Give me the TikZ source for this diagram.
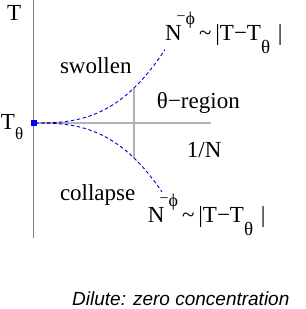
\documentclass[tikz,border=0pt]{standalone}
\usepackage{fontspec}
\setmainfont{Liberation Serif}
\newfontfamily\dilfont{Liberation Sans}
\tikzset{
  lbl/.style={inner sep=0pt, outer sep=0pt, anchor=base west, font=\fontsize{23}{26}\selectfont},
  axisline/.style={draw=black!50, line width=1pt},
  guide/.style={draw=black!30, line width=1.3pt},
  crit/.style={draw=blue!80!black, line width=0.9pt, dash pattern=on 3.5pt off 2.5pt},
}
\newcommand{\sizedtxt}[2]{{\fontsize{#1}{#1}\selectfont #2}}
\newcommand{\scal}{N\kern-5pt\raisebox{19pt}{\sizedtxt{16}{−}}\raisebox{16pt}{\sizedtxt{18}{ϕ}}\hspace{4pt}\char`\~\,|T−T\raisebox{-13pt}{\sizedtxt{19}{θ}}\,\,|}
\begin{document}
\begin{tikzpicture}[x=1pt,y=-1pt]
\useasboundingbox (0,0) rectangle (306,309);
% axes
\coordinate (top) at (34,0);
\coordinate (bot) at (34,238);
\coordinate (origin) at (34,123);
\coordinate (hend) at (211,123);
\coordinate (vtop) at (134,88);
\coordinate (vbot) at (134,158);
\draw[axisline] (top) -- (bot);
\draw[guide] (origin) -- (hend);
\draw[guide] (vtop) -- (vbot);
% critical curves
\draw[crit] plot[domain=0.01:1.31, samples=50] ({34+100*\x}, {123-35*(\x^2.75)});
\draw[crit] plot[domain=0.01:1.28, samples=50] ({34+100*\x}, {123+35*(\x^2.75)});
\node[fill=blue, minimum width=6pt, minimum height=6pt, inner sep=0pt] (tsq) at (origin) {};
% labels
\node[lbl] (tlab) at (7,20) {T};
\node[lbl] (ttheta) at (1,129) {T\raisebox{-10pt}{\sizedtxt{17}{θ}}};
\node[lbl] (swollen) at (60,73) {swollen};
\node[lbl] (collapse) at (60,200) {collapse};
\node[lbl] (region) at (157,108) {θ−region};
\node[lbl] (invn) at (187,157) {1/N};
\node[lbl] (upform) at (165,40) {\scal};
\node[lbl] (lowform) at (148,222) {\scal};
\node[inner sep=0pt, anchor=base west, font=\dilfont\itshape\fontsize{19}{21}\selectfont] (dilute) at (72,305) {Dilute: zero concentration};
\end{tikzpicture}
\end{document}
